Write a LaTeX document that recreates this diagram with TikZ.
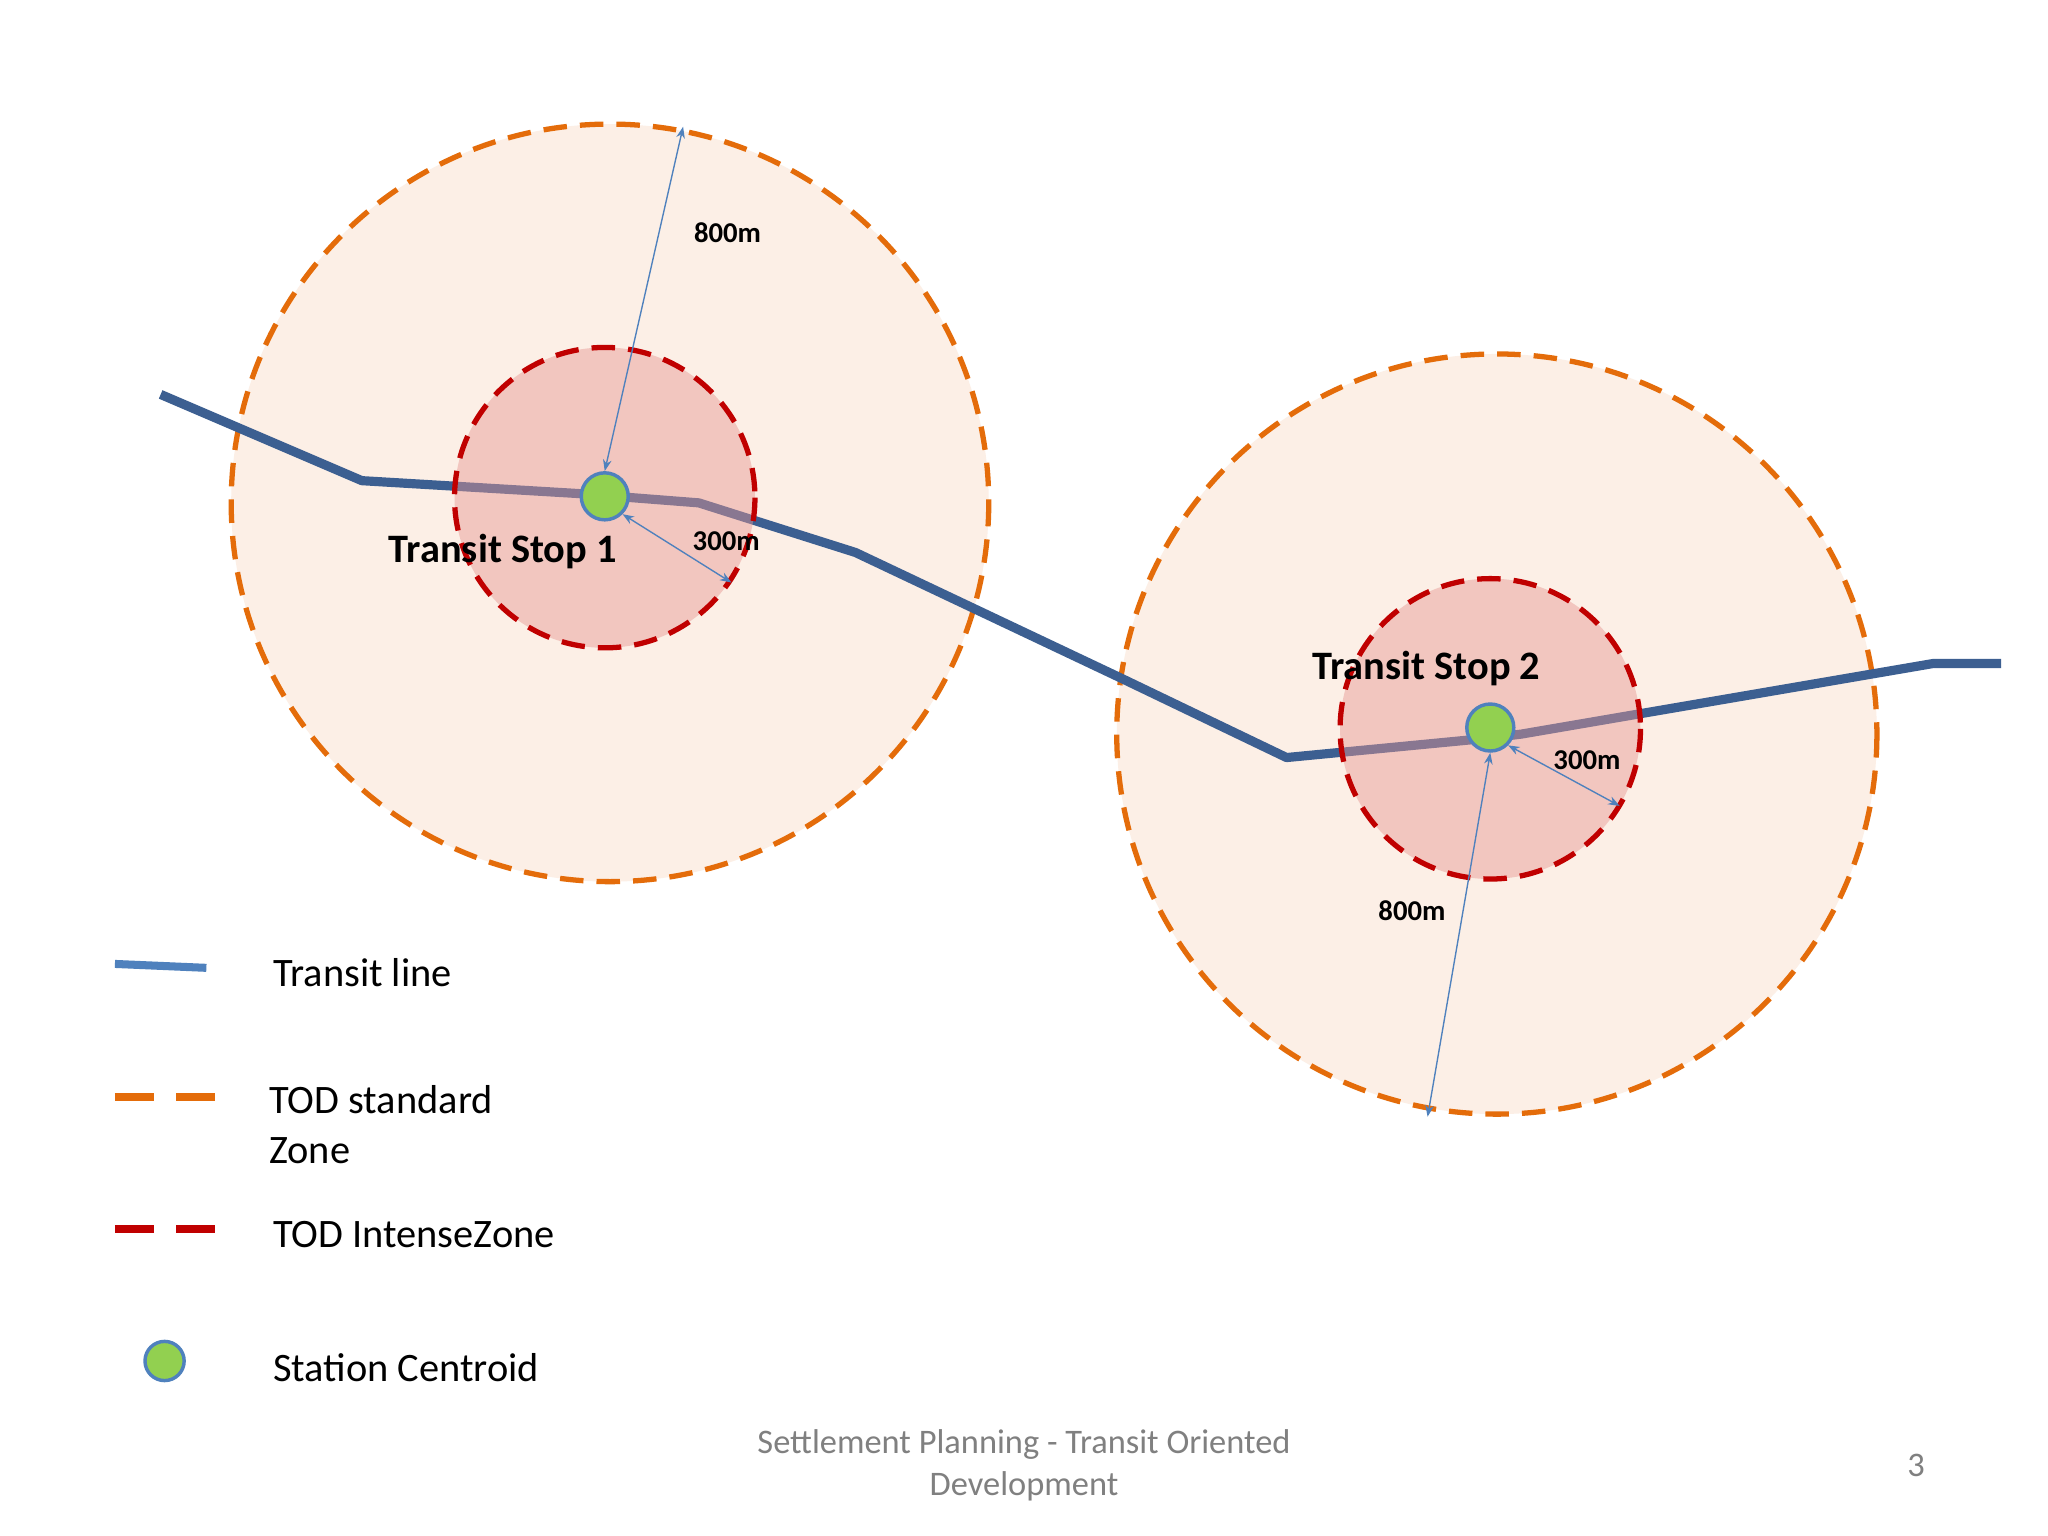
\documentclass[tikz,border=0pt]{standalone}
\usepackage{fontspec}
\setmainfont{Carlito}
\usetikzlibrary{arrows.meta}
\definecolor{lineblue}{RGB}{60,95,145}
\definecolor{legblue}{RGB}{79,129,189}
\definecolor{todorange}{RGB}{228,108,10}
\definecolor{todred}{RGB}{192,0,0}
\definecolor{bigfill}{RGB}{251,229,214}
\definecolor{smallfill}{RGB}{232,150,145}
\definecolor{cgreen}{RGB}{146,208,80}
\tikzset{
  bigzone/.style={draw=todorange,line width=2.3pt,dash pattern=on 0.36cm off 0.2cm,fill=bigfill,fill opacity=0.6,draw opacity=1},
  smallzone/.style={draw=todred,line width=2.3pt,dash pattern=on 0.36cm off 0.2cm,fill=smallfill,fill opacity=0.45,draw opacity=1},
  centroid/.style={circle,draw=legblue,line width=1.5pt,fill=cgreen,minimum size=0.72cm,inner sep=0pt},
  dim/.style={legblue,line width=0.6pt,{Stealth[length=5pt]}-{Stealth[length=5pt]}},
  dimlab/.style={font=\bfseries\fontsize{12.5}{14}\selectfont},
  stoplab/.style={font=\bfseries\fontsize{17.6}{20}\selectfont},
  leglab/.style={font=\fontsize{17.6}{21.5}\selectfont,anchor=west,align=left},
  foot/.style={font=\fontsize{15}{18.5}\selectfont,text=gray},
  tline/.style={lineblue,line width=4pt,line join=round}
}
\begin{document}
\begin{tikzpicture}[x=0.02cm,y=-0.02cm]
\useasboundingbox (0,0) rectangle (1568,1176);
\fill[white] (0,0) rectangle (1568,1176);
% outer zones
\draw[bigzone] (467,385) circle (290);
\draw[bigzone] (1146,562) circle (291);
% transit line
\draw[tline] (123,302) -- (277,368) -- (445,378) -- (535,385) -- (655,423) -- (860,520) -- (985,580) -- (1141,565) -- (1165,562) -- (1480,508) -- (1532,508);
% inner zones
\draw[smallzone] (463,381) circle (115);
\draw[smallzone] (1141,558) circle (115);
% centroids
\node[centroid] (c1) at (463,380) {};
\node[centroid] (c2) at (1141,557) {};
\coordinate (e1) at (523,97);
\coordinate (e2) at (560,446);
\coordinate (e3) at (1093,855);
\coordinate (e4) at (1240,617);
\draw[dim] (c1.north) -- (e1);
\draw[dim] (c1.south east) -- (e2);
\draw[dim] (c2.south) -- (e3);
\draw[dim] (c2.south east) -- (e4);
\node[dimlab] (l1) at (557,178) {800m};
\node[dimlab] (l2) at (556,414) {300m};
\node[dimlab] (l3) at (1215,582) {300m};
\node[dimlab] (l4) at (1081,697) {800m};
\node[stoplab] (s1) at (385,422) {Transit Stop 1};
\node[stoplab] (s2) at (1092,512) {Transit Stop 2};
% legend
\draw[legblue,line width=3.5pt] (88,738) -- (158,741);
\node[leglab] (t1) at (203,745) {Transit line};
\draw[todorange,line width=3.5pt,dash pattern=on 0.6cm off 0.34cm] (88,840) -- (165,840);
\node[leglab] (t2) at (200,861) {TOD standard\\Zone};
\draw[todred,line width=3.5pt,dash pattern=on 0.6cm off 0.34cm] (88,941) -- (165,941);
\node[leglab] (t3) at (203,945) {TOD IntenseZone};
\node[centroid,minimum size=0.6cm] (lc) at (126,1042) {};
\node[leglab] (t4) at (203,1047) {Station Centroid};
% footer
\node[foot,align=center] (f) at (784,1122) {Settlement Planning - Transit Oriented\\Development};
\node[foot] (p) at (1467,1122) {3};
\end{tikzpicture}
\end{document}
